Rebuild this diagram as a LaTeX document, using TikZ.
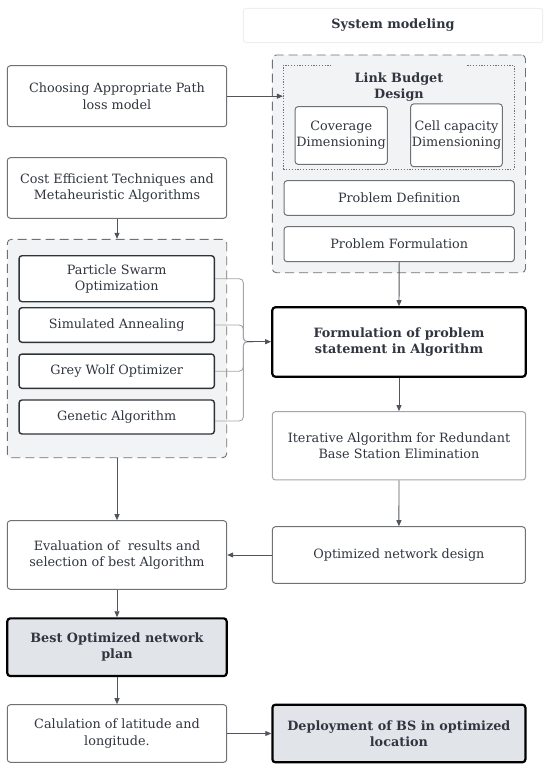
\documentclass[tikz,border=0pt]{standalone}
\usepackage{fontspec}
\setmainfont{DejaVu Serif}
\usetikzlibrary{arrows.meta,calc}
\definecolor{txt}{HTML}{30353F}
\definecolor{bord}{HTML}{6E7176}
\definecolor{lbord}{HTML}{A3A5A8}
\definecolor{gfill}{HTML}{F2F3F5}
\definecolor{hfill}{HTML}{E1E4E9}
\definecolor{arr}{HTML}{50555C}
\definecolor{dark}{HTML}{2E3338}
\definecolor{faint}{HTML}{EEEEEE}
\begin{document}
\begin{tikzpicture}[x=1pt,y=-1pt,
 font=\fontsize{12.8}{16.3}\selectfont,
 box/.style={draw=bord, line width=1pt, rounded corners=3pt, fill=white, align=center, text=txt, inner sep=0pt},
 algo/.style={box, draw=dark, line width=1.4pt},
 strong/.style={box, draw=black, line width=2.2pt, font=\fontsize{12.8}{16.3}\selectfont\bfseries},
 group/.style={draw=bord, line width=0.9pt, dash pattern=on 9pt off 5pt, rounded corners=4pt, fill=gfill, inner sep=0pt},
 conn/.style={draw=arr, line width=0.9pt, -{Triangle[length=6pt,width=5pt]}},
 bus/.style={draw=lbord, line width=0.9pt, rounded corners=4pt},
 sz/.style 2 args={minimum width=#1pt, minimum height=#2pt},
]
\useasboundingbox (0,0) rectangle (550,771);
% header
\node[box, draw=faint, sz={299.4}{34.4}, font=\fontsize{12.8}{16.3}\selectfont\bfseries] (head) at (393,25.5) {System modeling};
% right group
\node[group, sz={253.2}{217.7}] (rgroup) at (398.9,163.85) {};
\node[draw=bord, line width=0.8pt, dash pattern=on 1.2pt off 1.6pt, sz={231}{104}, inner sep=0pt] (lb) at (398.8,117) {};
\fill[gfill] (331.7,62) rectangle (466.7,68);
\node[text=txt, align=center, font=\fontsize{12.8}{16.3}\selectfont\bfseries] (lbt) at (399,87) {Link Budget\\Design};
\node[box, sz={92.3}{57.6}] (cov) at (341.2,135.5) {Coverage\\Dimensioning};
\node[box, sz={91.6}{62.7}] (cell) at (456.5,135.3) {Cell capacity\\Dimensioning};
\node[box, sz={230.3}{34.6}] (pdef) at (399.2,198) {Problem Definition};
\node[box, sz={230.3}{35}] (pform) at (399.2,244.2) {Problem Formulation};
% left column
\node[box, sz={219.4}{61}] (choose) at (117,96.2) {Choosing Appropriate Path\\loss model};
\node[box, sz={219.4}{60.6}] (cost) at (117,188) {Cost Efficient Techniques and\\Metaheuristic Algorithms};
\node[group, sz={219.4}{218.4}] (lgroup) at (117,348.5) {};
\node[algo, sz={195.3}{46}] (pso) at (116.7,278.7) {Particle Swarm\\Optimization};
\node[algo, sz={195.3}{34.6}] (sa) at (116.7,325) {Simulated Annealing};
\node[algo, sz={195.3}{34.3}] (gwo) at (116.7,371.2) {Grey Wolf Optimizer};
\node[algo, sz={195.3}{34}] (ga) at (116.7,417) {Genetic Algorithm};
% right column
\node[strong, sz={253.4}{69.4}] (form) at (399,342) {Formulation of problem\\statement in Algorithm};
\node[box, draw=lbord, sz={253.2}{68.3}] (iter) at (399,445.8) {Iterative Algorithm for Redundant\\Base Station Elimination};
\node[box, sz={253}{56.6}] (opt) at (398.9,555) {Optimized network design};
\node[box, sz={219.4}{68.6}] (eval) at (117,555) {Evaluation of \ results and\\selection of best Algorithm};
\node[strong, fill=hfill, sz={219.4}{57.7}] (best) at (117,647.2) {Best Optimized network\\plan};
\node[box, sz={219.4}{57.6}] (calc) at (117,733.5) {Calulation of latitude and\\longitude.};
\node[strong, fill=hfill, sz={253}{57.6}] (deploy) at (398.9,733.5) {Deployment of BS in optimized\\location};
% connectors
\coordinate (busx) at (243.3,341.7);
\draw[conn] (choose.east) -- (choose.east -| lb.west);
\draw[conn] (cost.south) -- (lgroup.north);
\draw[conn] (pform.south) -- (form.north);
\draw[bus] (pso.east) -| (busx) -- ($(busx)+(10,0)$);
\draw[bus] (sa.east) -| (busx) -- ($(busx)+(10,0)$);
\draw[bus] (gwo.east) -| (busx) -- ($(busx)+(10,0)$);
\draw[bus] ([yshift=-4pt]ga.east) -| (busx) -- ($(busx)+(10,0)$);
\draw[conn] ($(busx)+(4,0)$) -- (busx -| form.west);
\draw[conn] (form.south) -- (iter.north);
\draw[conn] (iter.south) -- (opt.north);
\draw[conn] (opt.west) -- (eval.east);
\draw[conn] (lgroup.south) -- (eval.north);
\draw[conn] (eval.south) -- (best.north);
\draw[conn] (best.south) -- (calc.north);
\draw[conn] (calc.east) -- (deploy.west);
\end{tikzpicture}
\end{document}
